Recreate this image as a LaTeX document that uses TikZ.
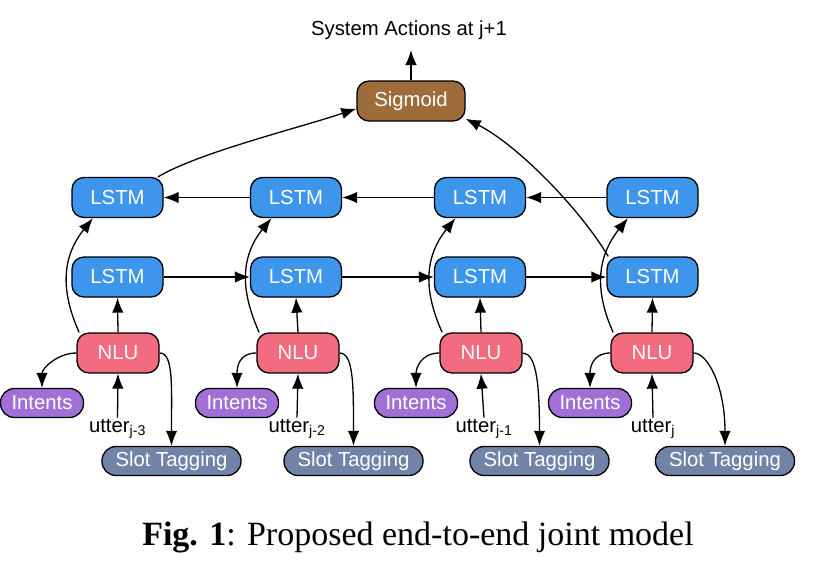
\documentclass[tikz,border=0pt]{standalone}
\usepackage{fontspec}
\setmainfont{Liberation Sans}
\newfontfamily\capfont{Liberation Serif}
\usetikzlibrary{arrows.meta}
\definecolor{lstmc}{RGB}{62,150,236}
\definecolor{nluc}{RGB}{242,107,127}
\definecolor{intc}{RGB}{161,112,214}
\definecolor{slotc}{RGB}{114,131,168}
\definecolor{sigc}{RGB}{158,107,58}
\begin{document}
\begin{tikzpicture}[x=1pt,y=-1pt,
  box/.style={draw=black, line width=1.3pt, text=white, inner sep=0pt,
    font=\fontsize{20.3}{23}\selectfont},
  lstm/.style={box, fill=lstmc, rounded corners=12pt, minimum width=91pt, minimum height=40pt},
  nlu/.style={box, fill=nluc, rounded corners=12pt, minimum width=82pt, minimum height=40pt},
  sig/.style={box, fill=sigc, rounded corners=12pt, minimum width=108pt, minimum height=40pt},
  intent/.style={box, fill=intc, rounded corners=14pt, minimum width=83pt, minimum height=29pt},
  slot/.style={box, fill=slotc, rounded corners=14pt, minimum width=139pt, minimum height=29pt},
  utt/.style={inner sep=1pt, anchor=base, font=\fontsize{20.3}{23}\selectfont},
  arr/.style={-{Latex[length=15pt,width=11.5pt]}, line width=1.3pt}
]
\useasboundingbox (0,0) rectangle (824,568);

% sigmoid and output
\node[sig] (sig) at (411,101) {Sigmoid};
\node[font=\fontsize{20.3}{23}\selectfont, anchor=base] (out) at (409,35) {System Actions at j+1};
\coordinate (outp) at (411,50);
\draw[arr] (sig.north) -- (outp);

% LSTM rows
\node[lstm] (t1) at (117.5,197.5) {LSTM};
\node[lstm] (t2) at (296,197.5) {LSTM};
\node[lstm] (t3) at (480,197.5) {LSTM};
\node[lstm] (t4) at (652.5,197.5) {LSTM};
\node[lstm] (b1) at (117.5,277) {LSTM};
\node[lstm] (b2) at (296,277) {LSTM};
\node[lstm] (b3) at (480,277) {LSTM};
\node[lstm] (b4) at (652.5,277) {LSTM};

% NLU
\node[nlu] (n1) at (118,353) {NLU};
\node[nlu] (n2) at (298,353) {NLU};
\node[nlu] (n3) at (481,353) {NLU};
\node[nlu] (n4) at (652,353) {NLU};

% Intents
\node[intent] (i1) at (42,403) {Intents};
\node[intent] (i2) at (237,403) {Intents};
\node[intent] (i3) at (416,403) {Intents};
\node[intent] (i4) at (590,403) {Intents};

% Slot tagging
\node[slot] (s1) at (171.5,461) {Slot Tagging};
\node[slot] (s2) at (353.5,461) {Slot Tagging};
\node[slot] (s3) at (539.5,461) {Slot Tagging};
\node[slot] (s4) at (725,461) {Slot Tagging};

% utterances
\node[utt] (u1) at (117.5,432) {utter\textsubscript{j-3}};
\node[utt] (u2) at (297,432) {utter\textsubscript{j-2}};
\node[utt] (u3) at (484,432) {utter\textsubscript{j-1}};
\node[utt] (u4) at (653,432) {utter\textsubscript{j}};

% connectors per column
\foreach \k in {1,2,3,4}{
  \draw[arr] (u\k.north) -- (n\k.south);
  \draw[arr] (n\k.north) -- (b\k.south);
  \draw[arr] (n\k.152) .. controls +(-18,-40) and +(-32,40) .. (t\k.220);
  \draw[arr] (n\k.west) .. controls +(-18,0) and +(0,-20) .. (i\k.north);
  \draw[arr] (n\k.east) .. controls +(14,0) and +(0,-60) .. (s\k.north);
}

% horizontal recurrences
\draw[arr] (b1.east) -- (b2.west);
\draw[arr] (b2.east) -- (b3.west);
\draw[arr] (b3.east) -- (b4.west);
\draw[arr] (t4.west) -- (t3.east);
\draw[arr] (t3.west) -- (t2.east);
\draw[arr] (t2.west) -- (t1.east);

% to sigmoid
\draw[arr] (t1.27) .. controls +(40,-24) and +(-60,20) .. (sig.188);
\draw[arr] (b4.155) .. controls +(-30,-50) and +(50,25) .. (sig.342);

% caption
\node[anchor=base, inner sep=0pt, font=\capfont\fontsize{34}{38}\selectfont] (cap) at (418,545)
  {\textbf{Fig. 1}: Proposed end-to-end joint model};
\end{tikzpicture}
\end{document}
